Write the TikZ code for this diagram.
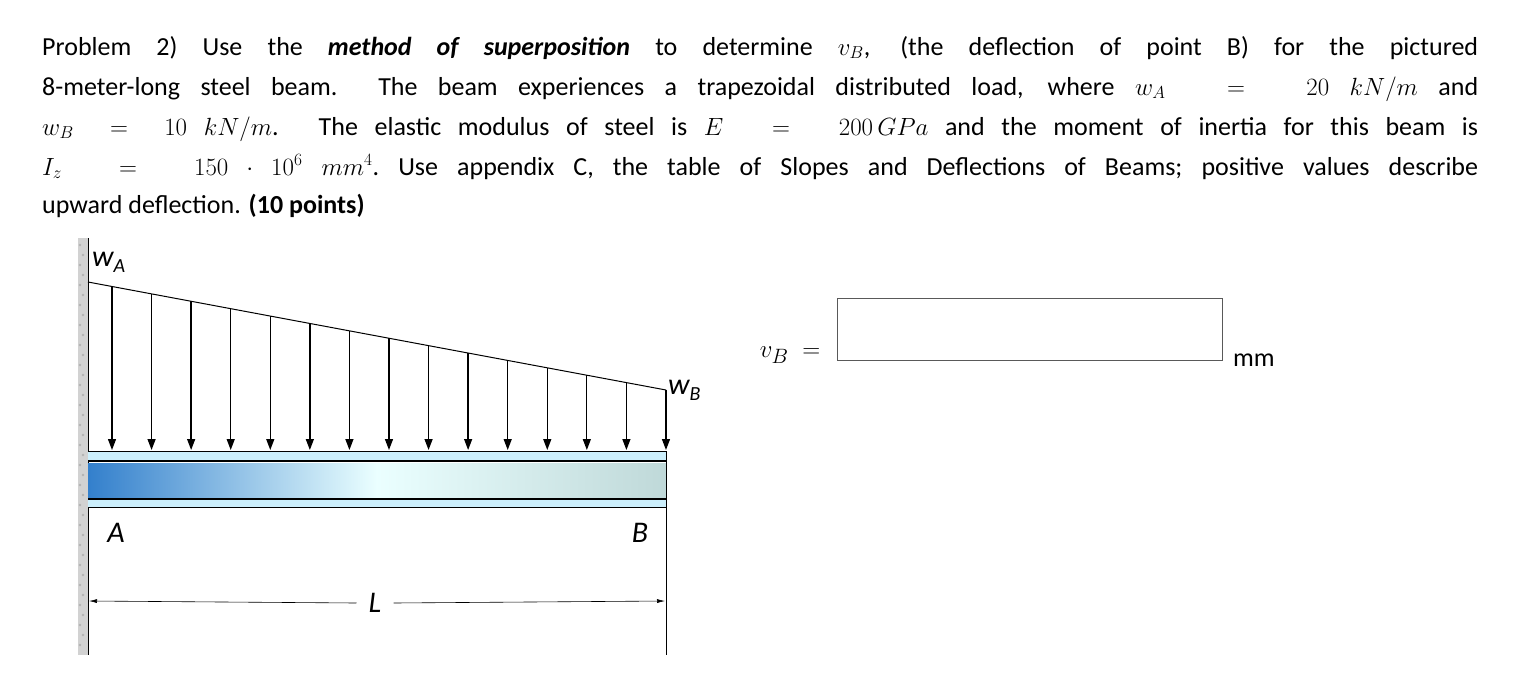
\documentclass[tikz,border=0pt]{standalone}
\usepackage{fontspec}
\setmainfont{Carlito}
\usetikzlibrary{arrows.meta}
\begin{document}
\begin{tikzpicture}[x=1pt,y=-1pt,
  txt/.style={anchor=base west,inner sep=0pt,font=\fontsize{26}{30}\selectfont},
  lab/.style={inner sep=0pt,font=\fontsize{30}{34}\selectfont\itshape\rmfamily},
  load/.style={-{Triangle[length=11pt,width=8pt]},line width=1.3pt}]
\useasboundingbox (0,0) rectangle (1536,680);
\node[txt] (l1) at (42,55) {\hbox to 1436pt{Problem 2) Use the \textbf{\textit{method of superposition}} to determine $v_B$, (the deflection of point B) for the pictured}};
\node[txt] (l2) at (42,95) {\hbox to 1436pt{8-meter-long steel beam.\ \ The beam experiences a trapezoidal distributed load, where $w_A\ =\ 20\ kN/m$ and}};
\node[txt] (l3) at (42,135) {\hbox to 1436pt{$w_B\,=\,10\ kN/m$. The elastic modulus of steel is $E\ =\ 200\,GPa$ and the moment of inertia for this beam is}};
\node[txt] (l4) at (42,175) {\hbox to 1436pt{$I_z\ =\ 150\cdot10^6\ mm^4$.\ Use appendix C, the table of Slopes and Deflections of Beams;\ positive values describe}};
\node[txt] (l5) at (42,213) {upward deflection. \textbf{(10 points)}};
% wall
\fill[gray!35] (78,238) rectangle (88,655);
\foreach \i in {0,...,40} {\fill[gray!60] ({80+3*Mod(\i,2)},{245+\i*10}) circle (1.3);}
\draw[line width=1pt] (88,238) -- (88,655);
% beam
\shade[left color=cyan!50!blue!60!gray,right color=cyan!25!gray!40,middle color=cyan!8] (88,463) rectangle (666,498);
\fill[cyan!20] (88,451) rectangle (666,460);
\fill[cyan!20] (88,500) rectangle (666,507);
\draw[line width=1pt] (88,451) -- (666,451);
\draw[line width=2pt] (88,461) -- (666,461);
\draw[line width=2pt] (88,499) -- (666,499);
\draw[line width=1pt] (88,507) -- (666,507);
\draw[line width=1pt] (666,451) -- (666,507);
% load
\draw[line width=1pt] (88,282) -- (666,390);
\foreach \k in {0,...,14} {
  \pgfmathsetmacro{\xx}{112+\k*39.57}
  \pgfmathsetmacro{\yy}{282+(\xx-88)/578*108}
  \draw[load] (\xx,\yy) -- (\xx,450);
}
\node[lab,anchor=west] (wa) at (92,262) {w\raisebox{-6pt}{\fontsize{20}{22}\selectfont A}};
\node[lab,anchor=west] (wb) at (668,390) {w\raisebox{-6pt}{\fontsize{20}{22}\selectfont B}};
\node[lab] (A) at (116,533) {A};
\node[lab] (B) at (640,533) {B};
% dimension
\draw[line width=0.6pt] (666,507) -- (666,655);
\node[lab] (L) at (375,603) {L};
\draw[-{Latex[length=8pt,width=4pt]},line width=0.6pt] (L.west) ++(-12,0) -- (89,601);
\draw[-{Latex[length=8pt,width=4pt]},line width=0.6pt] (L.east) ++(12,0) -- (665,601);
% answer
\node[inner sep=0pt,font=\fontsize{30}{34}\selectfont] (vb) at (790,355) {$v_B\ =$};
\draw[line width=0.8pt,gray!70!black] (837,298) rectangle (1222,360);
\node[txt] (mm) at (1233,366) {mm};
\end{tikzpicture}
\end{document}
